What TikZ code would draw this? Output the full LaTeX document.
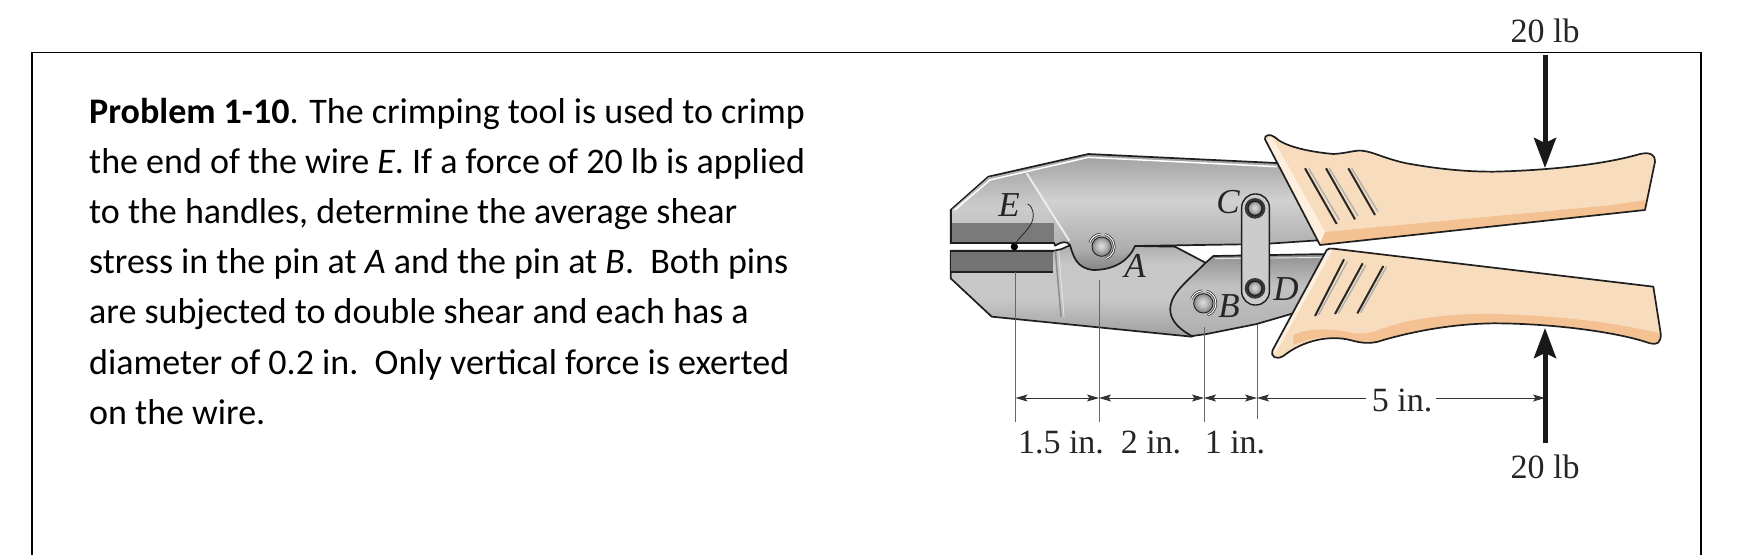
\documentclass[tikz,border=0pt]{standalone}
\usepackage{fontspec}
\setmainfont{Carlito}
\newfontfamily\figfont{Liberation Serif}
\usetikzlibrary{arrows.meta}
\pgfdeclareverticalshading{jawupper}{100bp}{color(0bp)=(black!35); color(15bp)=(black!40); color(23bp)=(black!52); color(34bp)=(black!32); color(55bp)=(black!18); color(78bp)=(black!40); color(92bp)=(black!52); color(100bp)=(black!55)}
\pgfdeclareverticalshading{jawtipshade}{100bp}{color(0bp)=(black!28); color(40bp)=(black!20); color(75bp)=(black!32); color(100bp)=(black!22)}
\pgfdeclareverticalshading{jawlower}{100bp}{color(0bp)=(black!58); color(20bp)=(black!42); color(45bp)=(black!22); color(65bp)=(black!22); color(85bp)=(black!42); color(100bp)=(black!48)}
\pgfdeclareverticalshading{leverplate}{100bp}{color(0bp)=(black!50); color(30bp)=(black!30); color(55bp)=(black!24); color(78bp)=(black!46); color(100bp)=(black!62)}
\pgfdeclareradialshading{ballshade}{\pgfpoint{-2bp}{3bp}}{color(0bp)=(black!12); color(13bp)=(black!28); color(25bp)=(black!50); color(50bp)=(black!70)}
\definecolor{gripbase}{RGB}{248,220,190}
\definecolor{gripdark}{RGB}{244,194,146}
\definecolor{griplight}{RGB}{253,238,222}
\tikzset{
  zoomA/.style={shift={(930,130)},x=0.33333pt,y=-0.33333pt},
  zoomB/.style={shift={(1240,0)},x=0.33333pt,y=-0.33333pt},
  body/.style={draw=black!88,line width=1.7pt,line join=round},
  bodytext/.style={anchor=base west,inner sep=0pt,font=\fontsize{36}{36}\selectfont},
  figtext/.style={anchor=base,inner sep=0pt,font=\figfont\fontsize{34}{34}\selectfont,text=black!85},
  figletter/.style={anchor=base,inner sep=0pt,font=\figfont\itshape\fontsize{35}{35}\selectfont,text=black!85},
  extline/.style={draw=black!60,line width=0.8pt},
  dimtip/.tip={Stealth[length=12pt,width=7pt,inset=2.5pt]},
  dimline/.style={draw=black!80,line width=0.9pt,dimtip-dimtip},
  forcearrow/.style={draw=black!90,line width=5pt,-{Stealth[length=30pt,width=22pt,inset=5pt]}},
  slot/.style={draw=black!85,line width=2pt,line cap=butt},
  slotshade/.style={draw=black!30,line width=1.5pt}
}
\newcommand{\ballpin}[2]{%
  \shade[shading=ballshade] (#1,#2) circle (29);
  \draw[black!85,line width=0.9pt] (#1,#2) circle (29);
  \draw[black!85,line width=2.4pt] ([shift={(70:38)}]#1,#2) arc[start angle=70,end angle=-75,radius=38];
  \draw[white,line width=1pt] ([shift={(70:38)}]#1,#2) arc[start angle=70,end angle=-75,radius=38];
  \draw[black!85,line width=2.4pt] ([shift={(-95:38)}]#1,#2) arc[start angle=-95,end angle=-160,radius=38];
  \draw[white,line width=1pt] ([shift={(-95:38)}]#1,#2) arc[start angle=-95,end angle=-160,radius=38];
}
\newcommand{\linkpin}[2]{%
  \fill[black!78] (#1,#2) circle (31);
  \shade[shading=ballshade] (#1,#2) circle (21);
  \draw[black!90,line width=1pt] (#1,#2) circle (21);
}
\begin{document}
\begin{tikzpicture}[x=1pt,y=-1pt]
\useasboundingbox (0,0) rectangle (1752,554);
\fill[white] (0,0) rectangle (1752,554);
% frame
\draw[black,line width=1.2pt] (32,560) -- (32,52.5) -- (1701,52.5) -- (1701,560);
% statement
\node[bodytext] (l1) at (89,123) {\textbf{Problem 1-10}. The crimping tool is used to crimp};
\node[bodytext] (l2) at (89,173.2) {the end of the wire \textit{E}. If a force of 20 lb is applied};
\node[bodytext] (l3) at (89,223.4) {to the handles, determine the average shear};
\node[bodytext] (l4) at (89,273.6) {stress in the pin at \textit{A} and the pin at \textit{B}.\ \ Both pins};
\node[bodytext] (l5) at (89,323.8) {are subjected to double shear and each has a};
\node[bodytext] (l6) at (89,374) {diameter of 0.2 in.\ \ Only vertical force is exerted};
\node[bodytext] (l7) at (89,424.2) {on the wire.};
% extension and dimension coordinates
\coordinate (e1a) at (1015.5,272); \coordinate (e1b) at (1015.5,422);
\coordinate (e2a) at (1099,280);   \coordinate (e2b) at (1099,422);
\coordinate (e3a) at (1204,327);   \coordinate (e3b) at (1204,422);
\coordinate (e4a) at (1257,325);   \coordinate (e4b) at (1257,419);
\coordinate (d1) at (1015.5,398); \coordinate (d2) at (1099,398);
\coordinate (d3) at (1204,398);   \coordinate (d4) at (1257,398);
\coordinate (d4b) at (1366,398);  \coordinate (d5a) at (1436,398);
\coordinate (d5) at (1545,398);
% tool
\begin{scope}[zoomA]
  % lower jaw
  \path[body,shade,shading=jawlower] (62,362) -- (372,362) -- (392,358) .. controls (410,352) and (415,345) .. (425,345)
     -- (615,348) -- (735,350) -- (830,400) -- (830,600) -- (785,620) -- (185,560) -- (62,445) -- cycle;
  \fill[black!55] (62,362) rectangle (370,425);
  \draw[black!88,line width=1.7pt] (62,425) -- (368,425) (62,362) -- (372,362);
  \draw[black!45,line width=1.5pt] (376,362) -- (393,560);
  \draw[black!12,line width=1pt] (386,362) -- (402,560);
  % lower lever plate
  \path[body,shade,shading=leverplate] (850,378) -- (1200,372) -- (1200,520) -- (1090,550) -- (980,582) -- (830,612) -- (785,618)
     .. controls (735,590) and (715,560) .. (722,525) .. controls (730,485) and (770,455) .. (825,400) -- cycle;
  \draw[black!10,line width=0.9pt] (855,386) -- (1200,382);
  % upper jaw
  \path[body,shade,shading=jawupper] (62,240) -- (175,140) -- (475,72) -- (1060,100) -- (1180,330) -- (1000,342) -- (615,348)
     .. controls (600,385) and (560,420) .. (490,420) .. controls (440,415) and (430,380) .. (420,345)
     .. controls (410,332) and (395,335) .. (375,347) -- (372,338) -- (62,338) -- cycle;
  % left end of upper jaw
  \shade[shading=jawtipshade] (64,241) -- (176,142) -- (290,125) -- (372,280) -- (64,280) -- cycle;
  \fill[black!52] (62,280) -- (372,280) -- (372,338) -- (62,338) -- cycle;
  \draw[black!88,line width=1.7pt] (62,240) -- (62,338) -- (372,338);
  \draw[white,line width=1.5pt] (74,240) -- (180,150) -- (475,82) -- (1040,110);
  \draw[black!8,line width=2pt] (290,130) -- (418,332);
  % link
  \draw[black!88,line width=1.4pt,fill=black!20,rounded corners=13.5pt] (935,192) rectangle (1018,525);
  \linkpin{975}{235}
  \linkpin{975}{475}
  \ballpin{515}{350}
  \ballpin{820}{520}
  % wire
  \fill[black] (253,350) circle (11);
  \draw[black!85,line width=0.8pt] (253,345) .. controls (280,305) and (325,280) .. (305,235) .. controls (303,228) and (298,224) .. (293,222);
\end{scope}
\begin{scope}[zoomB]
  % upper handle
  \path[fill=gripbase] (75,418) .. controls (72,405) and (90,400) .. (105,412) .. controls (130,437) and (200,455) .. (280,462)
     .. controls (320,460) and (345,450) .. (365,452) .. controls (400,455) and (430,475) .. (500,490)
     .. controls (600,508) and (680,515) .. (760,515) .. controls (900,512) and (1080,497) .. (1200,462)
     .. controls (1230,455) and (1247,465) .. (1245,485) -- (1215,630) -- (240,735) -- cycle;
  \fill[gripdark] (245,697) -- (1100,617) -- (1216,600) -- (1215,630) -- (240,735) -- cycle;
  \fill[griplight] (78,420) -- (95,410) -- (255,695) -- (240,730) -- cycle;
  \draw[body] (75,418) .. controls (72,405) and (90,400) .. (105,412) .. controls (130,437) and (200,455) .. (280,462)
     .. controls (320,460) and (345,450) .. (365,452) .. controls (400,455) and (430,475) .. (500,490)
     .. controls (600,508) and (680,515) .. (760,515) .. controls (900,512) and (1080,497) .. (1200,462)
     .. controls (1230,455) and (1247,465) .. (1245,485) -- (1215,630) -- (240,735) -- cycle;
  % lower handle
  \path[fill=gripbase] (260,750) .. controls (265,745) and (270,745) .. (280,746) -- (1240,860) -- (1262,1000)
     .. controls (1264,1030) and (1250,1035) .. (1230,1030) .. controls (1130,995) and (930,970) .. (760,970)
     .. controls (620,972) and (500,1000) .. (430,1020) .. controls (390,1035) and (360,1028) .. (330,1020)
     .. controls (270,1005) and (190,1020) .. (130,1068) .. controls (110,1080) and (90,1072) .. (98,1050) -- cycle;
  \fill[gripdark] (160,1005) .. controls (200,985) and (260,985) .. (320,995) .. controls (370,1008) and (400,995) .. (430,985)
     .. controls (530,950) and (650,940) .. (760,942) .. controls (930,945) and (1100,965) .. (1215,990)
     -- (1261,1000) .. controls (1264,1030) and (1250,1035) .. (1230,1030) .. controls (1130,995) and (930,970) .. (760,970)
     .. controls (620,972) and (500,1000) .. (430,1020) .. controls (390,1035) and (360,1028) .. (330,1020)
     .. controls (270,1005) and (220,1010) .. (160,1035) -- cycle;
  \fill[griplight] (262,752) -- (278,750) -- (140,1000) -- (105,1060) -- (100,1050) -- cycle;
  \draw[body] (260,750) .. controls (265,745) and (270,745) .. (280,746) -- (1240,860) -- (1262,1000)
     .. controls (1264,1030) and (1250,1035) .. (1230,1030) .. controls (1130,995) and (930,970) .. (760,970)
     .. controls (620,972) and (500,1000) .. (430,1020) .. controls (390,1035) and (360,1028) .. (330,1020)
     .. controls (270,1005) and (190,1020) .. (130,1068) .. controls (110,1080) and (90,1072) .. (98,1050) -- cycle;
  % slots
  \draw[slotshade] (206,505) -- (298,660);
  \draw[slotshade] (268,505) -- (354,648);
  \draw[slotshade] (335,505) -- (414,635);
  \draw[slot] (195,505) -- (290,672);
  \draw[slot] (258,505) -- (345,658);
  \draw[slot] (325,505) -- (405,645);
  \draw[slotshade] (322,785) -- (235,945);
  \draw[slotshade] (378,795) -- (295,940);
  \draw[slotshade] (440,800) -- (362,938);
  \draw[slot] (312,778) -- (225,948);
  \draw[slot] (368,790) -- (285,942);
  \draw[slot] (430,798) -- (352,940);
\end{scope}
% extension lines
\draw[extline] (e1a) -- (e1b);
\draw[extline] (e2a) -- (e2b);
\draw[extline] (e3a) -- (e3b);
\draw[extline] (e4a) -- (e4b);
% letters on the tool
\node[figletter] (E) at (1009,216) {E};
\node[figletter] (A) at (1135,277) {A};
\node[figletter] (C) at (1228,213) {C};
\node[figletter] (B) at (1229,317) {B};
\node[figletter] (D) at (1286,300) {D};
% dimensions
\node[figtext] (t5) at (1402,411) {5 in.};
\node[figtext] (t15) at (1061,453) {1.5 in.};
\node[figtext] (t2) at (1151,453) {2 in.};
\node[figtext] (t1) at (1235,453) {1 in.};
\draw[dimline] (d1) -- (d2);
\draw[dimline] (d2) -- (d3);
\draw[dimline] (d3) -- (d4);
\draw[draw=black!80,line width=0.9pt,dimtip-] (d4) -- (d4b);
\draw[draw=black!80,line width=0.9pt,-dimtip] (d5a) -- (d5);
% forces
\coordinate (ftA) at (1545,55); \coordinate (ftB) at (1545,168);
\coordinate (fbA) at (1545,443); \coordinate (fbB) at (1545,328);
\draw[forcearrow] (ftA) -- (ftB);
\draw[forcearrow] (fbA) -- (fbB);
\node[figtext] (ft) at (1545,42) {20 lb};
\node[figtext] (fb) at (1545,478) {20 lb};
\end{tikzpicture}
\end{document}
